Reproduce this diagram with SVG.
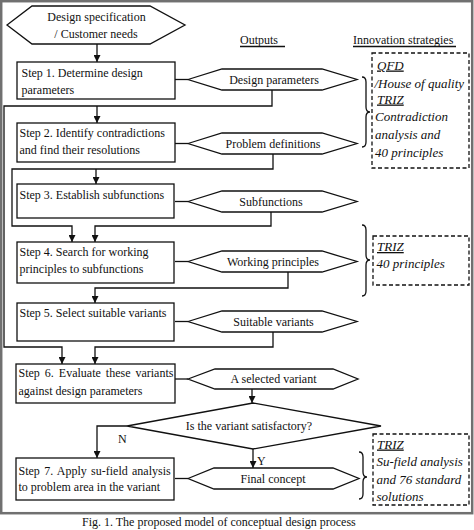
<svg xmlns="http://www.w3.org/2000/svg" width="474" height="530" viewBox="0 0 474 530">
<style>
text{font-family:"Liberation Serif","Times New Roman",serif;font-size:12px;fill:#111}
.it{font-style:italic;font-size:13px}
.u{text-decoration:underline}
.mid{text-anchor:middle}
.box{fill:#fff;stroke:#111;stroke-width:1.3}
.ln{fill:none;stroke:#111;stroke-width:1.3}
.dash{fill:none;stroke:#111;stroke-width:1.3;stroke-dasharray:4 2.5}
</style>
<defs>
<marker id="ah" viewBox="0 0 10 10" refX="10" refY="5" markerWidth="8" markerHeight="7" markerUnits="userSpaceOnUse" orient="auto">
<path d="M0,0 L10,5 L0,10 z" fill="#111"/>
</marker>
</defs>
<rect x="0" y="0" width="474" height="530" fill="#fff"/>
<rect x="1.2" y="1.2" width="471" height="512" fill="none" stroke="#707070" stroke-width="2.5"/>

<g id="connectors">
<path class="ln" d="M97,44 V62" marker-end="url(#ah)"/>
<path class="ln" d="M175,79.5 H188"/>
<path class="ln" d="M272,90 V106 H4 V347 H62 V364" marker-end="url(#ah)"/>
<path class="ln" d="M97,106 V123" marker-end="url(#ah)"/>
<path class="ln" d="M175,143.5 H188"/>
<path class="ln" d="M273,154 V169 H12 V226 H72 V242" marker-end="url(#ah)"/>
<path class="ln" d="M96,169 V184" marker-end="url(#ah)"/>
<path class="ln" d="M175,201.5 H188"/>
<path class="ln" d="M271,212 V226 H95 V242" marker-end="url(#ah)"/>
<path class="ln" d="M175,261.5 H188"/>
<path class="ln" d="M288,272 V288 H95 V303" marker-end="url(#ah)"/>
<path class="ln" d="M175,321.5 H188"/>
<path class="ln" d="M273,332 V347 H95 V364" marker-end="url(#ah)"/>
<path class="ln" d="M175,379 H188"/>
<path class="ln" d="M252,389 V403" marker-end="url(#ah)"/>
<path class="ln" d="M127,426 H97 V458" marker-end="url(#ah)"/>
<path class="ln" d="M253,449 V468" marker-end="url(#ah)"/>
<path class="ln" d="M175,478.5 H188"/>
<text x="118" y="443">N</text>
<text x="257" y="465">Y</text>
</g>

<g id="start">
<polygon class="box" points="7,25 32,6 150,6 185,25 150,44 32,44"/>
<text class="mid" x="96.5" y="21">Design specification</text>
<text class="mid" x="96" y="38">/ Customer needs</text>
</g>

<g id="headers">
<text x="240" y="44">Outputs</text>
<line class="ln" x1="240" y1="46.5" x2="285" y2="46.5" stroke-width="1"/>
<text x="353" y="44">Innovation strategies</text>
<line class="ln" x1="353" y1="46.5" x2="456" y2="46.5" stroke-width="1"/>
</g>

<g id="step1">
<rect class="box" x="17" y="62" width="158" height="37"/>
<text x="21.5" y="77">Step 1. Determine design</text>
<text x="21.5" y="94">parameters</text>
</g>
<g id="step2">
<rect class="box" x="17" y="123" width="158" height="39"/>
<text x="19.5" y="137">Step 2. Identify contradictions</text>
<text x="19.5" y="154">and find their resolutions</text>
</g>
<g id="step3">
<rect class="box" x="17" y="184" width="157" height="34"/>
<text x="19.5" y="199">Step 3. Establish subfunctions</text>
</g>
<g id="step4">
<rect class="box" x="17" y="242" width="157" height="41"/>
<text x="19.5" y="256">Step 4. Search for working</text>
<text x="19.5" y="273">principles to subfunctions</text>
</g>
<g id="step5">
<rect class="box" x="17" y="303" width="157" height="38"/>
<text x="19.5" y="317">Step 5. Select suitable variants</text>
</g>
<g id="step6">
<rect class="box" x="16" y="364" width="159" height="39"/>
<text x="18.5" y="377" word-spacing="2">Step 6. Evaluate these variants</text>
<text x="18.5" y="395">against design parameters</text>
</g>
<g id="step7">
<rect class="box" x="16" y="458" width="158" height="42"/>
<text x="18.5" y="475" word-spacing="1.3">Step 7. Apply su-field analysis</text>
<text x="18.5" y="491">to problem area in the variant</text>
</g>

<g id="out1">
<polygon class="box" points="188,79.5 222,69 322,69 357,79.5 322,90 222,90"/>
<text class="mid" x="274" y="84">Design parameters</text>
</g>
<g id="out2">
<polygon class="box" points="188,143.5 222,133 322,133 357,143.5 322,154 222,154"/>
<text class="mid" x="273" y="148">Problem definitions</text>
</g>
<g id="out3">
<polygon class="box" points="188,201.5 222,191 322,191 357,201.5 322,212 222,212"/>
<text class="mid" x="271" y="206">Subfunctions</text>
</g>
<g id="out4">
<polygon class="box" points="188,261.5 222,251 322,251 357,261.5 322,272 222,272"/>
<text class="mid" x="273" y="266">Working principles</text>
</g>
<g id="out5">
<polygon class="box" points="188,321.5 222,311 322,311 357,321.5 322,332 222,332"/>
<text class="mid" x="273.5" y="326">Suitable variants</text>
</g>
<g id="out6">
<polygon class="box" points="188,379 215,369 333,369 358,379 333,389 215,389"/>
<text class="mid" x="273.5" y="383">A selected variant</text>
</g>
<g id="decision">
<polygon class="box" points="253,403 381,426 253,449 127,426"/>
<text class="mid" x="249" y="430">Is the variant satisfactory?</text>
</g>
<g id="out7">
<polygon class="box" points="188,478.5 214,468 333,468 359,478.5 333,489 214,489"/>
<text class="mid" x="273" y="483">Final concept</text>
</g>

<g id="strategy1">
<path class="ln" d="M362,77 Q366,77 366,82 V107 Q366,112 370,112 Q366,112 366,117 V142 Q366,147 362,147"/>
<rect class="dash" x="372" y="53" width="97" height="115"/>
<text class="it u" x="377" y="69.5">QFD</text>
<text class="it" x="374.5" y="87.5">/House of quality</text>
<text class="it u" x="377" y="103.5">TRIZ</text>
<text class="it" x="375" y="121">Contradiction</text>
<text class="it" x="375" y="139">analysis and</text>
<text class="it" x="375" y="157">40 principles</text>
</g>
<g id="strategy2">
<path class="ln" d="M362,225 Q366,225 366,230 V255 Q366,260 370,260 Q366,260 366,265 V291 Q366,296 362,296"/>
<rect class="dash" x="373" y="236" width="96" height="49"/>
<text class="it u" x="377" y="251">TRIZ</text>
<text class="it" x="376.5" y="268">40 principles</text>
</g>
<g id="strategy3">
<path class="ln" d="M359,452 Q363,452 363,457 V472 Q363,477 367,477 Q363,477 363,482 V494 Q363,499 359,499"/>
<rect class="dash" x="373" y="434" width="96" height="71"/>
<text class="it u" x="377" y="448.5">TRIZ</text>
<text class="it" x="376.5" y="466">Su-field analysis</text>
<text class="it" x="376.5" y="483.5">and 76 standard</text>
<text class="it" x="376.5" y="500.5">solutions</text>
</g>

<text x="82" y="525.5" font-size="13">Fig. 1. The proposed model of conceptual design process</text>
</svg>
